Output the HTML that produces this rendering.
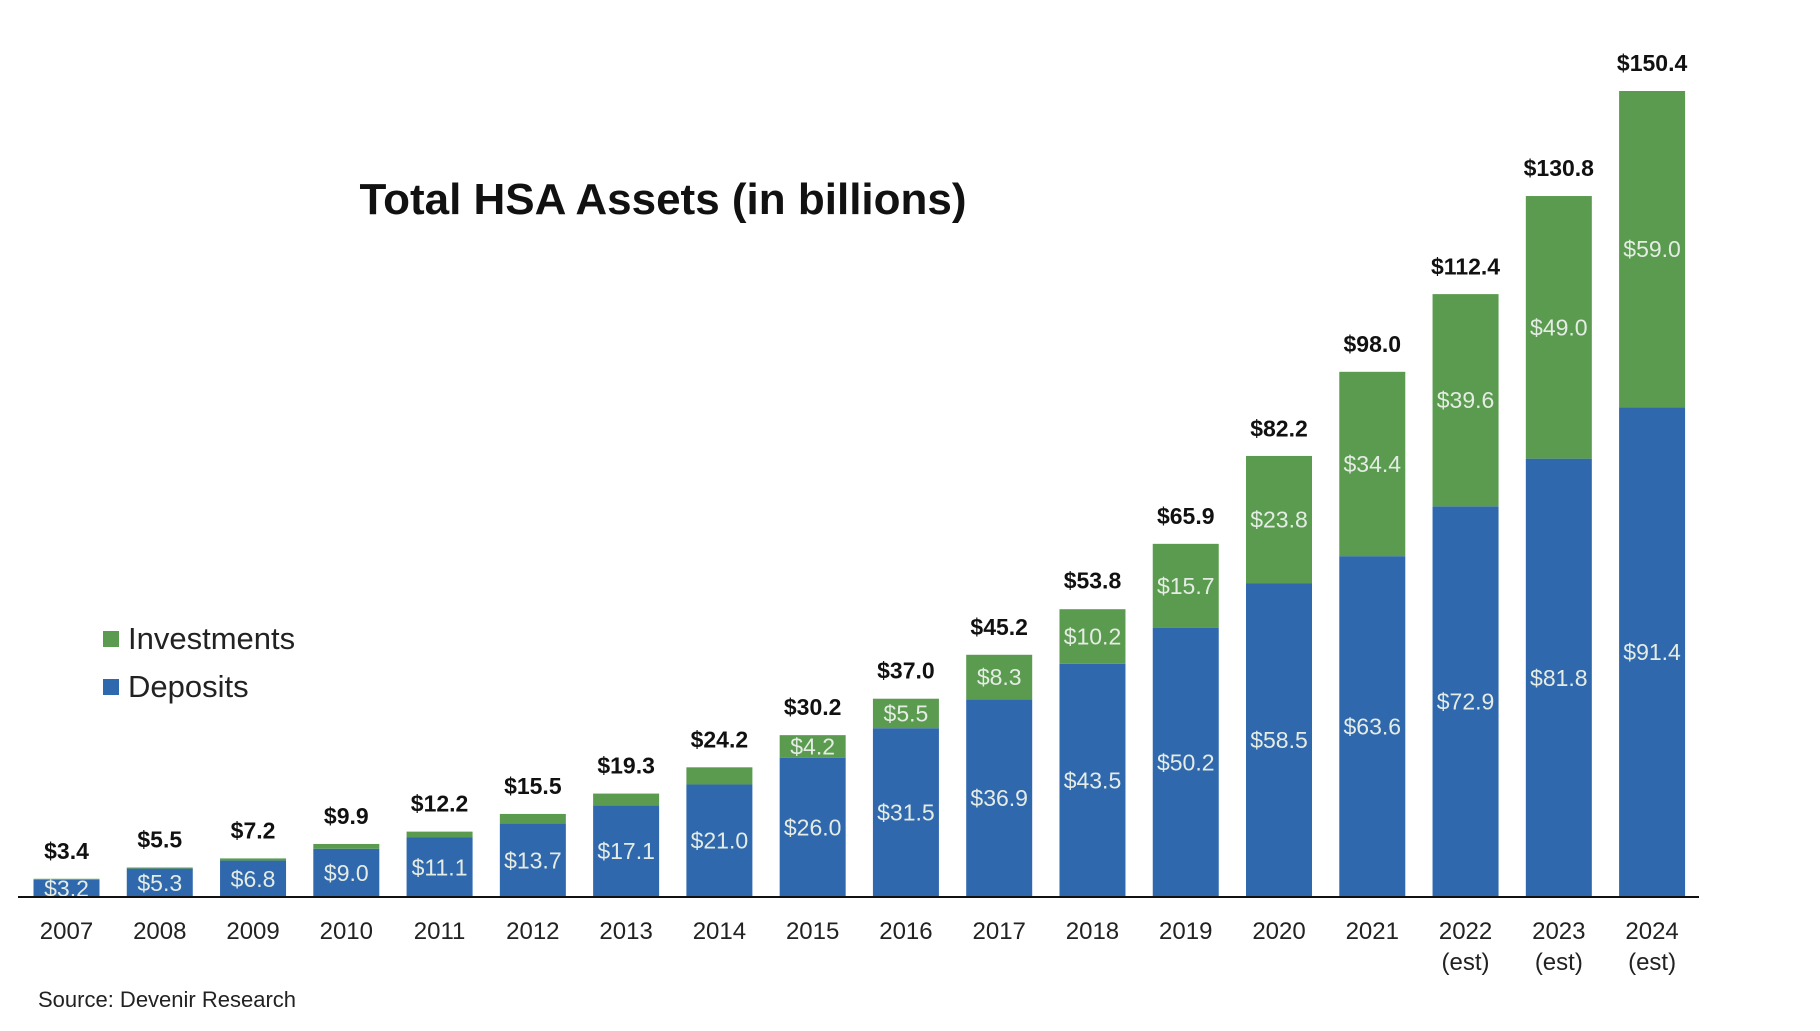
<!DOCTYPE html>
<html><head><meta charset="utf-8"><style>
body{margin:0;background:#fff;width:1820px;height:1026px;overflow:hidden;font-family:"Liberation Sans",sans-serif}
svg text{font-family:"Liberation Sans",sans-serif}
</style></head><body>
<svg id="chart" width="1820" height="1026" viewBox="0 0 1820 1026">
<text x="663" y="214" text-anchor="middle" font-size="44" font-weight="bold" fill="#111">Total HSA Assets (in billions)</text>
<g>
<rect x="103" y="631" width="16" height="16" fill="#5b9b4f"/>
<text x="128" y="649" font-size="31" fill="#222">Investments</text>
<rect x="103" y="679" width="16" height="16" fill="#3068ae"/>
<text x="128" y="697" font-size="31" fill="#222">Deposits</text>
</g>
<g id="bars"></g>
<line x1="18" y1="897" x2="1699" y2="897" stroke="#111" stroke-width="2"/>
<text x="38" y="1007" font-size="22" fill="#222">Source: Devenir Research</text>
</svg>
<script>
const years=["2007","2008","2009","2010","2011","2012","2013","2014","2015","2016","2017","2018","2019","2020","2021","2022","2023","2024"];
const estimated=[0,0,0,0,0,0,0,0,0,0,0,0,0,0,0,1,1,1];
const deposits=[3.2,5.3,6.8,9.0,11.1,13.7,17.1,21.0,26.0,31.5,36.9,43.5,50.2,58.5,63.6,72.9,81.8,91.4];
const investments=[0.2,0.2,0.4,0.9,1.1,1.8,2.2,3.2,4.2,5.5,8.3,10.2,15.7,23.8,34.4,39.6,49.0,59.0];
const totals=[3.4,5.5,7.2,9.9,12.2,15.5,19.3,24.2,30.2,37.0,45.2,53.8,65.9,82.2,98.0,112.4,130.8,150.4];
const NS="http://www.w3.org/2000/svg";
const baseY=897, pxPerUnit=806/150.4, x0=66.5, step=93.27, bw=66;
const yS=v=>baseY-v*pxPerUnit;
const xC=i=>x0+i*step;
const g=document.getElementById('bars');
function mk(tag,attrs){const e=document.createElementNS(NS,tag);for(const k in attrs)e.setAttribute(k,attrs[k]);g.appendChild(e);return e;}
years.forEach((yr,i)=>{
  const cx=xC(i), d=deposits[i], inv=investments[i];
  const dTop=yS(d), iTop=yS(d+inv);
  const rd=mk('rect',{x:cx-bw/2,y:dTop,width:bw,height:baseY-dTop,fill:'#3068ae'});
  
  
  const ri=mk('rect',{x:cx-bw/2,y:iTop,width:bw,height:dTop-iTop,fill:'#5b9b4f'});
  
  
  const td=mk('text',{x:cx,y:(dTop+baseY)/2+8,'text-anchor':'middle','font-size':23,fill:'#e4ece4'});
  td.textContent='$'+d.toFixed(1);
  
  
  if(inv>=4){
    const ti=mk('text',{x:cx,y:(iTop+dTop)/2+8,'text-anchor':'middle','font-size':23,fill:'#e4ece4'});
    ti.textContent='$'+inv.toFixed(1);
    
    
  }
  const tt=mk('text',{x:cx,y:yS(totals[i])-20,'text-anchor':'middle','font-size':23,'font-weight':'bold',fill:'#111'});
  tt.textContent='$'+totals[i].toFixed(1);
  
  
  const ty=mk('text',{x:cx,y:939,'text-anchor':'middle','font-size':24,fill:'#222'});
  ty.textContent=yr;
  
  
  if(estimated[i]){
    const te=mk('text',{x:cx,y:970,'text-anchor':'middle','font-size':24,fill:'#222'});
    te.textContent='(est)';
    
    
  }
});
</script>
</body></html>
